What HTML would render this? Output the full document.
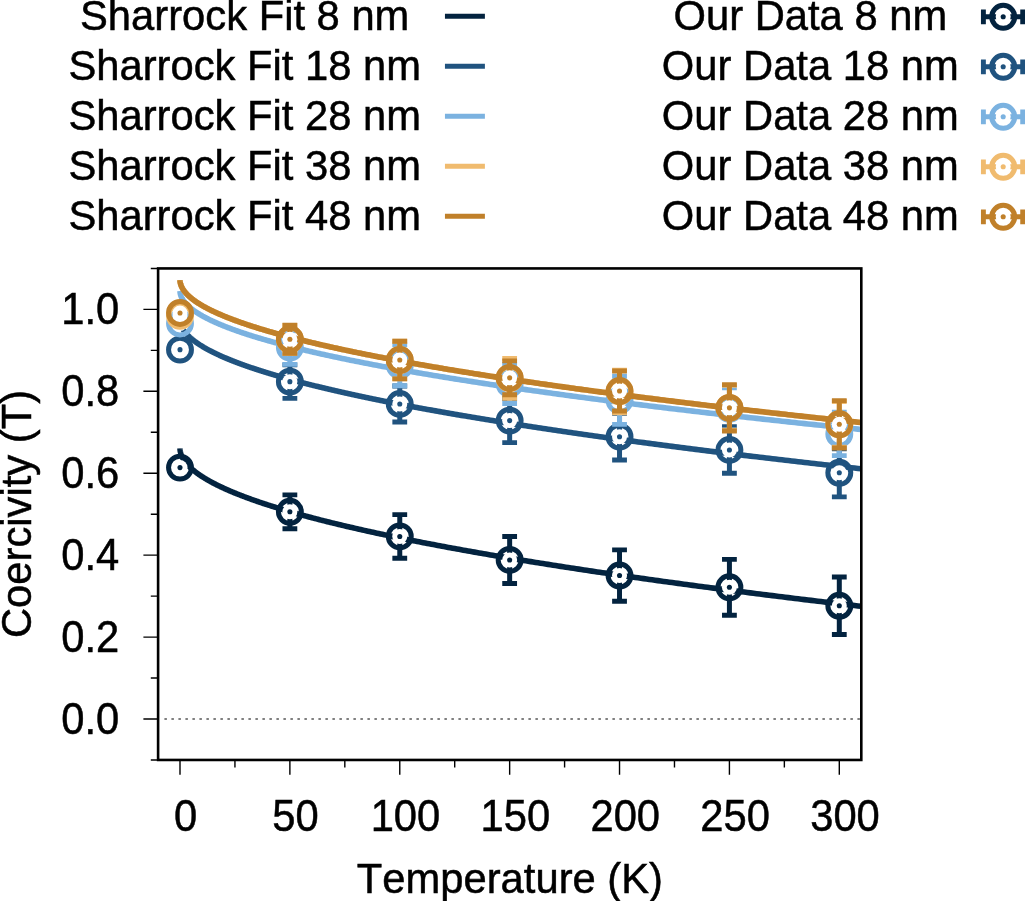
<!DOCTYPE html><html><head><meta charset="utf-8"><title>Coercivity vs Temperature</title>
<style>html,body{margin:0;padding:0;background:#fff;}body{width:1025px;height:901px;overflow:hidden;}svg{display:block;}text{font-family:"Liberation Sans",sans-serif;font-size:41.75px;fill:#000;font-kerning:none;stroke:#000;stroke-width:0.5px;}</style></head><body>
<svg width="1025" height="901" viewBox="0 0 1025 901">
<rect width="1025" height="901" fill="#fff"/>
<line x1="164.40" y1="719.00" x2="861.30" y2="719.00" stroke="#555" stroke-width="1.3" stroke-dasharray="2.5,4.5"/>
<path d="M158.10 759.96h-7.30M158.10 719.00h-14.70M158.10 678.04h-7.30M158.10 637.08h-14.70M158.10 596.12h-7.30M158.10 555.16h-14.70M158.10 514.20h-7.30M158.10 473.24h-14.70M158.10 432.28h-7.30M158.10 391.32h-14.70M158.10 350.36h-7.30M158.10 309.40h-14.70M158.10 268.44h-7.30M180.00 759.96v14.80M234.94 759.96v7.60M289.88 759.96v14.80M344.82 759.96v7.60M399.77 759.96v14.80M454.71 759.96v7.60M509.65 759.96v14.80M564.59 759.96v7.60M619.53 759.96v14.80M674.48 759.96v7.60M729.42 759.96v14.80M784.36 759.96v7.60M839.30 759.96v14.80" stroke="#000" stroke-width="1.4" fill="none"/>
<defs><clipPath id="c"><rect x="158.10" y="268.44" width="705.40" height="491.52"/></clipPath></defs>
<g clip-path="url(#c)">
<path d="M180.00 448.37L180.01 448.58L180.02 448.93L180.04 449.31L180.07 449.70L180.11 450.09L180.16 450.48L180.21 450.87L180.27 451.27L180.35 451.66L180.43 452.06L180.52 452.45L180.62 452.85L180.72 453.24L180.84 453.64L180.96 454.03L181.09 454.43L181.23 454.82L181.38 455.22L181.54 455.61L181.71 456.01L181.88 456.40L182.06 456.80L182.25 457.19L182.45 457.59L182.66 457.98L182.88 458.38L183.11 458.77L183.34 459.17L183.58 459.57L183.83 459.96L184.09 460.36L184.36 460.75L184.64 461.15L184.92 461.54L185.22 461.94L185.52 462.33L185.83 462.73L186.15 463.12L186.48 463.52L186.81 463.92L187.16 464.31L187.51 464.71L187.88 465.10L188.25 465.50L188.62 465.89L189.01 466.29L189.41 466.68L189.81 467.08L190.23 467.48L190.65 467.87L191.08 468.27L191.52 468.66L191.96 469.06L192.42 469.45L192.88 469.85L193.36 470.24L193.84 470.64L194.33 471.04L194.82 471.43L195.33 471.83L195.85 472.22L196.37 472.62L196.90 473.01L197.44 473.41L197.99 473.80L198.55 474.20L199.12 474.60L199.69 474.99L200.27 475.39L200.87 475.78L201.47 476.18L202.08 476.57L202.69 476.97L203.32 477.36L203.95 477.76L204.60 478.16L205.25 478.55L205.91 478.95L206.58 479.34L207.25 479.74L207.94 480.13L208.63 480.53L209.34 480.92L210.05 481.32L210.77 481.72L211.49 482.11L212.23 482.51L212.98 482.90L213.73 483.30L214.49 483.69L215.26 484.09L216.04 484.48L216.83 484.88L217.63 485.28L218.43 485.67L219.24 486.07L220.07 486.46L220.90 486.86L221.73 487.25L222.58 487.65L223.44 488.04L224.30 488.44L225.17 488.84L226.06 489.23L226.95 489.63L227.84 490.02L228.75 490.42L229.67 490.81L230.59 491.21L231.52 491.60L232.46 492.00L233.41 492.40L234.37 492.79L235.34 493.19L236.31 493.58L237.30 493.98L238.29 494.37L239.29 494.77L240.30 495.16L241.32 495.56L242.34 495.96L243.38 496.35L244.42 496.75L245.47 497.14L246.53 497.54L247.60 497.93L248.68 498.33L249.76 498.73L250.86 499.12L251.96 499.52L253.07 499.91L254.19 500.31L255.32 500.70L256.46 501.10L257.60 501.49L258.76 501.89L259.92 502.29L261.09 502.68L262.27 503.08L263.46 503.47L264.65 503.87L265.86 504.26L267.07 504.66L268.30 505.05L269.53 505.45L270.76 505.85L272.01 506.24L273.27 506.64L274.53 507.03L275.81 507.43L277.09 507.82L278.38 508.22L279.68 508.61L280.98 509.01L282.30 509.41L283.62 509.80L284.96 510.20L286.30 510.59L287.65 510.99L289.01 511.38L290.37 511.78L291.75 512.17L293.13 512.57L294.52 512.97L295.93 513.36L297.33 513.76L298.75 514.15L300.18 514.55L301.61 514.94L303.06 515.34L304.51 515.73L305.97 516.13L307.44 516.53L308.92 516.92L310.40 517.32L311.90 517.71L313.40 518.11L314.91 518.50L316.43 518.90L317.96 519.30L319.50 519.69L321.04 520.09L322.60 520.48L324.16 520.88L325.73 521.27L327.31 521.67L328.90 522.06L330.50 522.46L332.10 522.86L333.71 523.25L335.34 523.65L336.97 524.04L338.61 524.44L340.25 524.83L341.91 525.23L343.58 525.62L345.25 526.02L346.93 526.42L348.62 526.81L350.32 527.21L352.03 527.60L353.74 528.00L355.47 528.39L357.20 528.79L358.94 529.18L360.69 529.58L362.45 529.98L364.22 530.37L365.99 530.77L367.78 531.16L369.57 531.56L371.37 531.95L373.18 532.35L375.00 532.74L376.83 533.14L378.66 533.54L380.51 533.93L382.36 534.33L384.22 534.72L386.09 535.12L387.97 535.51L389.85 535.91L391.75 536.30L393.65 536.70L395.56 537.10L397.48 537.49L399.41 537.89L401.35 538.28L403.29 538.68L405.25 539.07L407.21 539.47L409.18 539.87L411.16 540.26L413.15 540.66L415.15 541.05L417.15 541.45L419.17 541.84L421.19 542.24L423.22 542.63L425.26 543.03L427.31 543.43L429.37 543.82L431.43 544.22L433.50 544.61L435.59 545.01L437.68 545.40L439.78 545.80L441.88 546.19L444.00 546.59L446.13 546.99L448.26 547.38L450.40 547.78L452.55 548.17L454.71 548.57L456.88 548.96L459.05 549.36L461.24 549.75L463.43 550.15L465.63 550.55L467.84 550.94L470.06 551.34L472.29 551.73L474.52 552.13L476.77 552.52L479.02 552.92L481.28 553.31L483.55 553.71L485.83 554.11L488.11 554.50L490.41 554.90L492.71 555.29L495.02 555.69L497.34 556.08L499.67 556.48L502.01 556.88L504.36 557.27L506.71 557.67L509.07 558.06L511.45 558.46L513.83 558.85L516.22 559.25L518.61 559.64L521.02 560.04L523.43 560.44L525.86 560.83L528.29 561.23L530.73 561.62L533.17 562.02L535.63 562.41L538.10 562.81L540.57 563.20L543.05 563.60L545.54 564.00L548.04 564.39L550.55 564.79L553.07 565.18L555.59 565.58L558.13 565.97L560.67 566.37L563.22 566.76L565.78 567.16L568.35 567.56L570.92 567.95L573.51 568.35L576.10 568.74L578.70 569.14L581.31 569.53L583.93 569.93L586.56 570.32L589.19 570.72L591.84 571.12L594.49 571.51L597.15 571.91L599.82 572.30L602.50 572.70L605.19 573.09L607.88 573.49L610.58 573.88L613.30 574.28L616.02 574.68L618.75 575.07L621.49 575.47L624.23 575.86L626.99 576.26L629.75 576.65L632.52 577.05L635.30 577.45L638.09 577.84L640.89 578.24L643.69 578.63L646.51 579.03L649.33 579.42L652.16 579.82L655.00 580.21L657.85 580.61L660.71 581.01L663.58 581.40L666.45 581.80L669.33 582.19L672.22 582.59L675.12 582.98L678.03 583.38L680.95 583.77L683.87 584.17L686.81 584.57L689.75 584.96L692.70 585.36L695.66 585.75L698.63 586.15L701.60 586.54L704.59 586.94L707.58 587.33L710.58 587.73L713.59 588.13L716.61 588.52L719.64 588.92L722.68 589.31L725.72 589.71L728.77 590.10L731.83 590.50L734.90 590.89L737.98 591.29L741.07 591.69L744.17 592.08L747.27 592.48L750.38 592.87L753.50 593.27L756.63 593.66L759.77 594.06L762.92 594.46L766.07 594.85L769.24 595.25L772.41 595.64L775.59 596.04L778.78 596.43L781.98 596.83L785.18 597.22L788.40 597.62L791.62 598.02L794.85 598.41L798.09 598.81L801.34 599.20L804.60 599.60L807.86 599.99L811.14 600.39L814.42 600.78L817.71 601.18L821.01 601.58L824.32 601.97L827.64 602.37L830.96 602.76L834.30 603.16L837.64 603.55L840.99 603.95L844.35 604.34L847.72 604.74L851.10 605.14L854.48 605.53L857.87 605.93L861.28 606.32" fill="none" stroke="#03233f" stroke-width="5.6" stroke-linejoin="round"/>
<circle cx="180.00" cy="467.62" r="7.5" fill="#fff"/><circle cx="180.00" cy="467.62" r="11.45" fill="none" stroke="#03233f" stroke-width="5"/><circle cx="180.00" cy="467.62" r="2.55" fill="#03233f"/>
<path d="M289.88 494.90V528.73" stroke="#03233f" stroke-width="5.0" fill="none"/><path d="M282.48 494.90h14.80M282.48 528.73h14.80" stroke="#03233f" stroke-width="4.9" fill="none"/><circle cx="289.88" cy="511.82" r="7.5" fill="#fff"/><circle cx="289.88" cy="511.82" r="11.45" fill="none" stroke="#03233f" stroke-width="5"/><circle cx="289.88" cy="511.82" r="2.55" fill="#03233f"/>
<path d="M399.77 514.59V558.30" stroke="#03233f" stroke-width="5.0" fill="none"/><path d="M392.37 514.59h14.80M392.37 558.30h14.80" stroke="#03233f" stroke-width="4.9" fill="none"/><circle cx="399.77" cy="536.45" r="7.5" fill="#fff"/><circle cx="399.77" cy="536.45" r="11.45" fill="none" stroke="#03233f" stroke-width="5"/><circle cx="399.77" cy="536.45" r="2.55" fill="#03233f"/>
<path d="M509.65 536.45V583.43" stroke="#03233f" stroke-width="5.0" fill="none"/><path d="M502.25 536.45h14.80M502.25 583.43h14.80" stroke="#03233f" stroke-width="4.9" fill="none"/><circle cx="509.65" cy="559.94" r="7.5" fill="#fff"/><circle cx="509.65" cy="559.94" r="11.45" fill="none" stroke="#03233f" stroke-width="5"/><circle cx="509.65" cy="559.94" r="2.55" fill="#03233f"/>
<path d="M619.53 549.85V601.24" stroke="#03233f" stroke-width="5.0" fill="none"/><path d="M612.13 549.85h14.80M612.13 601.24h14.80" stroke="#03233f" stroke-width="4.9" fill="none"/><circle cx="619.53" cy="575.54" r="7.5" fill="#fff"/><circle cx="619.53" cy="575.54" r="11.45" fill="none" stroke="#03233f" stroke-width="5"/><circle cx="619.53" cy="575.54" r="2.55" fill="#03233f"/>
<path d="M729.42 559.37V615.25" stroke="#03233f" stroke-width="5.0" fill="none"/><path d="M722.02 559.37h14.80M722.02 615.25h14.80" stroke="#03233f" stroke-width="4.9" fill="none"/><circle cx="729.42" cy="587.31" r="7.5" fill="#fff"/><circle cx="729.42" cy="587.31" r="11.45" fill="none" stroke="#03233f" stroke-width="5"/><circle cx="729.42" cy="587.31" r="2.55" fill="#03233f"/>
<path d="M839.30 577.05V634.49" stroke="#03233f" stroke-width="5.0" fill="none"/><path d="M831.90 577.05h14.80M831.90 634.49h14.80" stroke="#03233f" stroke-width="4.9" fill="none"/><circle cx="839.30" cy="605.77" r="7.5" fill="#fff"/><circle cx="839.30" cy="605.77" r="11.45" fill="none" stroke="#03233f" stroke-width="5"/><circle cx="839.30" cy="605.77" r="2.55" fill="#03233f"/>
<path d="M180.00 319.60L180.01 319.79L180.02 320.12L180.04 320.48L180.07 320.85L180.11 321.22L180.16 321.59L180.21 321.96L180.27 322.33L180.35 322.70L180.43 323.08L180.52 323.45L180.62 323.82L180.72 324.20L180.84 324.57L180.96 324.94L181.09 325.32L181.23 325.69L181.38 326.06L181.54 326.44L181.71 326.81L181.88 327.18L182.06 327.56L182.25 327.93L182.45 328.30L182.66 328.68L182.88 329.05L183.11 329.42L183.34 329.80L183.58 330.17L183.83 330.54L184.09 330.92L184.36 331.29L184.64 331.67L184.92 332.04L185.22 332.41L185.52 332.79L185.83 333.16L186.15 333.53L186.48 333.91L186.81 334.28L187.16 334.65L187.51 335.03L187.88 335.40L188.25 335.77L188.62 336.15L189.01 336.52L189.41 336.90L189.81 337.27L190.23 337.64L190.65 338.02L191.08 338.39L191.52 338.76L191.96 339.14L192.42 339.51L192.88 339.88L193.36 340.26L193.84 340.63L194.33 341.01L194.82 341.38L195.33 341.75L195.85 342.13L196.37 342.50L196.90 342.87L197.44 343.25L197.99 343.62L198.55 343.99L199.12 344.37L199.69 344.74L200.27 345.12L200.87 345.49L201.47 345.86L202.08 346.24L202.69 346.61L203.32 346.98L203.95 347.36L204.60 347.73L205.25 348.11L205.91 348.48L206.58 348.85L207.25 349.23L207.94 349.60L208.63 349.97L209.34 350.35L210.05 350.72L210.77 351.09L211.49 351.47L212.23 351.84L212.98 352.22L213.73 352.59L214.49 352.96L215.26 353.34L216.04 353.71L216.83 354.08L217.63 354.46L218.43 354.83L219.24 355.20L220.07 355.58L220.90 355.95L221.73 356.33L222.58 356.70L223.44 357.07L224.30 357.45L225.17 357.82L226.06 358.19L226.95 358.57L227.84 358.94L228.75 359.32L229.67 359.69L230.59 360.06L231.52 360.44L232.46 360.81L233.41 361.18L234.37 361.56L235.34 361.93L236.31 362.30L237.30 362.68L238.29 363.05L239.29 363.43L240.30 363.80L241.32 364.17L242.34 364.55L243.38 364.92L244.42 365.29L245.47 365.67L246.53 366.04L247.60 366.41L248.68 366.79L249.76 367.16L250.86 367.54L251.96 367.91L253.07 368.28L254.19 368.66L255.32 369.03L256.46 369.40L257.60 369.78L258.76 370.15L259.92 370.53L261.09 370.90L262.27 371.27L263.46 371.65L264.65 372.02L265.86 372.39L267.07 372.77L268.30 373.14L269.53 373.51L270.76 373.89L272.01 374.26L273.27 374.64L274.53 375.01L275.81 375.38L277.09 375.76L278.38 376.13L279.68 376.50L280.98 376.88L282.30 377.25L283.62 377.63L284.96 378.00L286.30 378.37L287.65 378.75L289.01 379.12L290.37 379.49L291.75 379.87L293.13 380.24L294.52 380.61L295.93 380.99L297.33 381.36L298.75 381.74L300.18 382.11L301.61 382.48L303.06 382.86L304.51 383.23L305.97 383.60L307.44 383.98L308.92 384.35L310.40 384.72L311.90 385.10L313.40 385.47L314.91 385.85L316.43 386.22L317.96 386.59L319.50 386.97L321.04 387.34L322.60 387.71L324.16 388.09L325.73 388.46L327.31 388.84L328.90 389.21L330.50 389.58L332.10 389.96L333.71 390.33L335.34 390.70L336.97 391.08L338.61 391.45L340.25 391.82L341.91 392.20L343.58 392.57L345.25 392.95L346.93 393.32L348.62 393.69L350.32 394.07L352.03 394.44L353.74 394.81L355.47 395.19L357.20 395.56L358.94 395.94L360.69 396.31L362.45 396.68L364.22 397.06L365.99 397.43L367.78 397.80L369.57 398.18L371.37 398.55L373.18 398.92L375.00 399.30L376.83 399.67L378.66 400.05L380.51 400.42L382.36 400.79L384.22 401.17L386.09 401.54L387.97 401.91L389.85 402.29L391.75 402.66L393.65 403.04L395.56 403.41L397.48 403.78L399.41 404.16L401.35 404.53L403.29 404.90L405.25 405.28L407.21 405.65L409.18 406.02L411.16 406.40L413.15 406.77L415.15 407.15L417.15 407.52L419.17 407.89L421.19 408.27L423.22 408.64L425.26 409.01L427.31 409.39L429.37 409.76L431.43 410.13L433.50 410.51L435.59 410.88L437.68 411.26L439.78 411.63L441.88 412.00L444.00 412.38L446.13 412.75L448.26 413.12L450.40 413.50L452.55 413.87L454.71 414.25L456.88 414.62L459.05 414.99L461.24 415.37L463.43 415.74L465.63 416.11L467.84 416.49L470.06 416.86L472.29 417.23L474.52 417.61L476.77 417.98L479.02 418.36L481.28 418.73L483.55 419.10L485.83 419.48L488.11 419.85L490.41 420.22L492.71 420.60L495.02 420.97L497.34 421.35L499.67 421.72L502.01 422.09L504.36 422.47L506.71 422.84L509.07 423.21L511.45 423.59L513.83 423.96L516.22 424.33L518.61 424.71L521.02 425.08L523.43 425.46L525.86 425.83L528.29 426.20L530.73 426.58L533.17 426.95L535.63 427.32L538.10 427.70L540.57 428.07L543.05 428.45L545.54 428.82L548.04 429.19L550.55 429.57L553.07 429.94L555.59 430.31L558.13 430.69L560.67 431.06L563.22 431.43L565.78 431.81L568.35 432.18L570.92 432.56L573.51 432.93L576.10 433.30L578.70 433.68L581.31 434.05L583.93 434.42L586.56 434.80L589.19 435.17L591.84 435.54L594.49 435.92L597.15 436.29L599.82 436.67L602.50 437.04L605.19 437.41L607.88 437.79L610.58 438.16L613.30 438.53L616.02 438.91L618.75 439.28L621.49 439.66L624.23 440.03L626.99 440.40L629.75 440.78L632.52 441.15L635.30 441.52L638.09 441.90L640.89 442.27L643.69 442.64L646.51 443.02L649.33 443.39L652.16 443.77L655.00 444.14L657.85 444.51L660.71 444.89L663.58 445.26L666.45 445.63L669.33 446.01L672.22 446.38L675.12 446.76L678.03 447.13L680.95 447.50L683.87 447.88L686.81 448.25L689.75 448.62L692.70 449.00L695.66 449.37L698.63 449.74L701.60 450.12L704.59 450.49L707.58 450.87L710.58 451.24L713.59 451.61L716.61 451.99L719.64 452.36L722.68 452.73L725.72 453.11L728.77 453.48L731.83 453.86L734.90 454.23L737.98 454.60L741.07 454.98L744.17 455.35L747.27 455.72L750.38 456.10L753.50 456.47L756.63 456.84L759.77 457.22L762.92 457.59L766.07 457.97L769.24 458.34L772.41 458.71L775.59 459.09L778.78 459.46L781.98 459.83L785.18 460.21L788.40 460.58L791.62 460.95L794.85 461.33L798.09 461.70L801.34 462.08L804.60 462.45L807.86 462.82L811.14 463.20L814.42 463.57L817.71 463.94L821.01 464.32L824.32 464.69L827.64 465.07L830.96 465.44L834.30 465.81L837.64 466.19L840.99 466.56L844.35 466.93L847.72 467.31L851.10 467.68L854.48 468.05L857.87 468.43L861.28 468.80" fill="none" stroke="#20537f" stroke-width="5.6" stroke-linejoin="round"/>
<circle cx="180.00" cy="349.64" r="7.5" fill="#fff"/><circle cx="180.00" cy="349.64" r="11.45" fill="none" stroke="#20537f" stroke-width="5"/><circle cx="180.00" cy="349.64" r="2.55" fill="#20537f"/>
<path d="M289.88 364.88V398.38" stroke="#20537f" stroke-width="5.0" fill="none"/><path d="M282.48 364.88h14.80M282.48 398.38h14.80" stroke="#20537f" stroke-width="4.9" fill="none"/><circle cx="289.88" cy="381.63" r="7.5" fill="#fff"/><circle cx="289.88" cy="381.63" r="11.45" fill="none" stroke="#20537f" stroke-width="5"/><circle cx="289.88" cy="381.63" r="2.55" fill="#20537f"/>
<path d="M399.77 386.04V421.99" stroke="#20537f" stroke-width="5.0" fill="none"/><path d="M392.37 386.04h14.80M392.37 421.99h14.80" stroke="#20537f" stroke-width="4.9" fill="none"/><circle cx="399.77" cy="404.01" r="7.5" fill="#fff"/><circle cx="399.77" cy="404.01" r="11.45" fill="none" stroke="#20537f" stroke-width="5"/><circle cx="399.77" cy="404.01" r="2.55" fill="#20537f"/>
<path d="M509.65 398.62V442.58" stroke="#20537f" stroke-width="5.0" fill="none"/><path d="M502.25 398.62h14.80M502.25 442.58h14.80" stroke="#20537f" stroke-width="4.9" fill="none"/><circle cx="509.65" cy="420.60" r="7.5" fill="#fff"/><circle cx="509.65" cy="420.60" r="11.45" fill="none" stroke="#20537f" stroke-width="5"/><circle cx="509.65" cy="420.60" r="2.55" fill="#20537f"/>
<path d="M619.53 413.41V459.98" stroke="#20537f" stroke-width="5.0" fill="none"/><path d="M612.13 413.41h14.80M612.13 459.98h14.80" stroke="#20537f" stroke-width="4.9" fill="none"/><circle cx="619.53" cy="436.69" r="7.5" fill="#fff"/><circle cx="619.53" cy="436.69" r="11.45" fill="none" stroke="#20537f" stroke-width="5"/><circle cx="619.53" cy="436.69" r="2.55" fill="#20537f"/>
<path d="M729.42 426.73V473.29" stroke="#20537f" stroke-width="5.0" fill="none"/><path d="M722.02 426.73h14.80M722.02 473.29h14.80" stroke="#20537f" stroke-width="4.9" fill="none"/><circle cx="729.42" cy="450.01" r="7.5" fill="#fff"/><circle cx="729.42" cy="450.01" r="11.45" fill="none" stroke="#20537f" stroke-width="5"/><circle cx="729.42" cy="450.01" r="2.55" fill="#20537f"/>
<path d="M839.30 448.70V496.91" stroke="#20537f" stroke-width="5.0" fill="none"/><path d="M831.90 448.70h14.80M831.90 496.91h14.80" stroke="#20537f" stroke-width="4.9" fill="none"/><circle cx="839.30" cy="472.80" r="7.5" fill="#fff"/><circle cx="839.30" cy="472.80" r="11.45" fill="none" stroke="#20537f" stroke-width="5"/><circle cx="839.30" cy="472.80" r="2.55" fill="#20537f"/>
<path d="M180.00 291.03L180.01 291.20L180.02 291.51L180.04 291.85L180.07 292.19L180.11 292.53L180.16 292.87L180.21 293.22L180.27 293.56L180.35 293.91L180.43 294.25L180.52 294.60L180.62 294.95L180.72 295.29L180.84 295.64L180.96 295.98L181.09 296.33L181.23 296.68L181.38 297.02L181.54 297.37L181.71 297.72L181.88 298.06L182.06 298.41L182.25 298.76L182.45 299.10L182.66 299.45L182.88 299.80L183.11 300.14L183.34 300.49L183.58 300.84L183.83 301.18L184.09 301.53L184.36 301.88L184.64 302.22L184.92 302.57L185.22 302.92L185.52 303.26L185.83 303.61L186.15 303.96L186.48 304.30L186.81 304.65L187.16 305.00L187.51 305.34L187.88 305.69L188.25 306.04L188.62 306.39L189.01 306.73L189.41 307.08L189.81 307.43L190.23 307.77L190.65 308.12L191.08 308.47L191.52 308.81L191.96 309.16L192.42 309.51L192.88 309.85L193.36 310.20L193.84 310.55L194.33 310.89L194.82 311.24L195.33 311.59L195.85 311.93L196.37 312.28L196.90 312.63L197.44 312.97L197.99 313.32L198.55 313.67L199.12 314.01L199.69 314.36L200.27 314.71L200.87 315.05L201.47 315.40L202.08 315.75L202.69 316.10L203.32 316.44L203.95 316.79L204.60 317.14L205.25 317.48L205.91 317.83L206.58 318.18L207.25 318.52L207.94 318.87L208.63 319.22L209.34 319.56L210.05 319.91L210.77 320.26L211.49 320.60L212.23 320.95L212.98 321.30L213.73 321.64L214.49 321.99L215.26 322.34L216.04 322.68L216.83 323.03L217.63 323.38L218.43 323.72L219.24 324.07L220.07 324.42L220.90 324.76L221.73 325.11L222.58 325.46L223.44 325.81L224.30 326.15L225.17 326.50L226.06 326.85L226.95 327.19L227.84 327.54L228.75 327.89L229.67 328.23L230.59 328.58L231.52 328.93L232.46 329.27L233.41 329.62L234.37 329.97L235.34 330.31L236.31 330.66L237.30 331.01L238.29 331.35L239.29 331.70L240.30 332.05L241.32 332.39L242.34 332.74L243.38 333.09L244.42 333.44L245.47 333.78L246.53 334.13L247.60 334.48L248.68 334.82L249.76 335.17L250.86 335.52L251.96 335.86L253.07 336.21L254.19 336.56L255.32 336.90L256.46 337.25L257.60 337.60L258.76 337.94L259.92 338.29L261.09 338.64L262.27 338.98L263.46 339.33L264.65 339.68L265.86 340.02L267.07 340.37L268.30 340.72L269.53 341.06L270.76 341.41L272.01 341.76L273.27 342.11L274.53 342.45L275.81 342.80L277.09 343.15L278.38 343.49L279.68 343.84L280.98 344.19L282.30 344.53L283.62 344.88L284.96 345.23L286.30 345.57L287.65 345.92L289.01 346.27L290.37 346.61L291.75 346.96L293.13 347.31L294.52 347.65L295.93 348.00L297.33 348.35L298.75 348.69L300.18 349.04L301.61 349.39L303.06 349.73L304.51 350.08L305.97 350.43L307.44 350.78L308.92 351.12L310.40 351.47L311.90 351.82L313.40 352.16L314.91 352.51L316.43 352.86L317.96 353.20L319.50 353.55L321.04 353.90L322.60 354.24L324.16 354.59L325.73 354.94L327.31 355.28L328.90 355.63L330.50 355.98L332.10 356.32L333.71 356.67L335.34 357.02L336.97 357.36L338.61 357.71L340.25 358.06L341.91 358.41L343.58 358.75L345.25 359.10L346.93 359.45L348.62 359.79L350.32 360.14L352.03 360.49L353.74 360.83L355.47 361.18L357.20 361.53L358.94 361.87L360.69 362.22L362.45 362.57L364.22 362.91L365.99 363.26L367.78 363.61L369.57 363.95L371.37 364.30L373.18 364.65L375.00 364.99L376.83 365.34L378.66 365.69L380.51 366.03L382.36 366.38L384.22 366.73L386.09 367.08L387.97 367.42L389.85 367.77L391.75 368.12L393.65 368.46L395.56 368.81L397.48 369.16L399.41 369.50L401.35 369.85L403.29 370.20L405.25 370.54L407.21 370.89L409.18 371.24L411.16 371.58L413.15 371.93L415.15 372.28L417.15 372.62L419.17 372.97L421.19 373.32L423.22 373.66L425.26 374.01L427.31 374.36L429.37 374.71L431.43 375.05L433.50 375.40L435.59 375.75L437.68 376.09L439.78 376.44L441.88 376.79L444.00 377.13L446.13 377.48L448.26 377.83L450.40 378.17L452.55 378.52L454.71 378.87L456.88 379.21L459.05 379.56L461.24 379.91L463.43 380.25L465.63 380.60L467.84 380.95L470.06 381.29L472.29 381.64L474.52 381.99L476.77 382.33L479.02 382.68L481.28 383.03L483.55 383.38L485.83 383.72L488.11 384.07L490.41 384.42L492.71 384.76L495.02 385.11L497.34 385.46L499.67 385.80L502.01 386.15L504.36 386.50L506.71 386.84L509.07 387.19L511.45 387.54L513.83 387.88L516.22 388.23L518.61 388.58L521.02 388.92L523.43 389.27L525.86 389.62L528.29 389.96L530.73 390.31L533.17 390.66L535.63 391.01L538.10 391.35L540.57 391.70L543.05 392.05L545.54 392.39L548.04 392.74L550.55 393.09L553.07 393.43L555.59 393.78L558.13 394.13L560.67 394.47L563.22 394.82L565.78 395.17L568.35 395.51L570.92 395.86L573.51 396.21L576.10 396.55L578.70 396.90L581.31 397.25L583.93 397.59L586.56 397.94L589.19 398.29L591.84 398.63L594.49 398.98L597.15 399.33L599.82 399.68L602.50 400.02L605.19 400.37L607.88 400.72L610.58 401.06L613.30 401.41L616.02 401.76L618.75 402.10L621.49 402.45L624.23 402.80L626.99 403.14L629.75 403.49L632.52 403.84L635.30 404.18L638.09 404.53L640.89 404.88L643.69 405.22L646.51 405.57L649.33 405.92L652.16 406.26L655.00 406.61L657.85 406.96L660.71 407.31L663.58 407.65L666.45 408.00L669.33 408.35L672.22 408.69L675.12 409.04L678.03 409.39L680.95 409.73L683.87 410.08L686.81 410.43L689.75 410.77L692.70 411.12L695.66 411.47L698.63 411.81L701.60 412.16L704.59 412.51L707.58 412.85L710.58 413.20L713.59 413.55L716.61 413.89L719.64 414.24L722.68 414.59L725.72 414.94L728.77 415.28L731.83 415.63L734.90 415.98L737.98 416.32L741.07 416.67L744.17 417.02L747.27 417.36L750.38 417.71L753.50 418.06L756.63 418.40L759.77 418.75L762.92 419.10L766.07 419.44L769.24 419.79L772.41 420.14L775.59 420.48L778.78 420.83L781.98 421.18L785.18 421.52L788.40 421.87L791.62 422.22L794.85 422.56L798.09 422.91L801.34 423.26L804.60 423.61L807.86 423.95L811.14 424.30L814.42 424.65L817.71 424.99L821.01 425.34L824.32 425.69L827.64 426.03L830.96 426.38L834.30 426.73L837.64 427.07L840.99 427.42L844.35 427.77L847.72 428.11L851.10 428.46L854.48 428.81L857.87 429.15L861.28 429.50" fill="none" stroke="#7bb2e0" stroke-width="5.6" stroke-linejoin="round"/>
<circle cx="180.00" cy="323.50" r="7.5" fill="#fff"/><circle cx="180.00" cy="323.50" r="11.45" fill="none" stroke="#7bb2e0" stroke-width="5"/><circle cx="180.00" cy="323.50" r="2.55" fill="#7bb2e0"/>
<path d="M289.88 330.85V364.35" stroke="#7bb2e0" stroke-width="5.0" fill="none"/><path d="M282.48 330.85h14.80M282.48 364.35h14.80" stroke="#7bb2e0" stroke-width="4.9" fill="none"/><circle cx="289.88" cy="347.60" r="7.5" fill="#fff"/><circle cx="289.88" cy="347.60" r="11.45" fill="none" stroke="#7bb2e0" stroke-width="5"/><circle cx="289.88" cy="347.60" r="2.55" fill="#7bb2e0"/>
<path d="M399.77 344.90V385.75" stroke="#7bb2e0" stroke-width="5.0" fill="none"/><path d="M392.37 344.90h14.80M392.37 385.75h14.80" stroke="#7bb2e0" stroke-width="4.9" fill="none"/><circle cx="399.77" cy="365.33" r="7.5" fill="#fff"/><circle cx="399.77" cy="365.33" r="11.45" fill="none" stroke="#7bb2e0" stroke-width="5"/><circle cx="399.77" cy="365.33" r="2.55" fill="#7bb2e0"/>
<path d="M509.65 364.35V403.56" stroke="#7bb2e0" stroke-width="5.0" fill="none"/><path d="M502.25 364.35h14.80M502.25 403.56h14.80" stroke="#7bb2e0" stroke-width="4.9" fill="none"/><circle cx="509.65" cy="383.96" r="7.5" fill="#fff"/><circle cx="509.65" cy="383.96" r="11.45" fill="none" stroke="#7bb2e0" stroke-width="5"/><circle cx="509.65" cy="383.96" r="2.55" fill="#7bb2e0"/>
<path d="M619.53 376.19V424.40" stroke="#7bb2e0" stroke-width="5.0" fill="none"/><path d="M612.13 376.19h14.80M612.13 424.40h14.80" stroke="#7bb2e0" stroke-width="4.9" fill="none"/><circle cx="619.53" cy="400.30" r="7.5" fill="#fff"/><circle cx="619.53" cy="400.30" r="11.45" fill="none" stroke="#7bb2e0" stroke-width="5"/><circle cx="619.53" cy="400.30" r="2.55" fill="#7bb2e0"/>
<path d="M729.42 387.75V429.99" stroke="#7bb2e0" stroke-width="5.0" fill="none"/><path d="M722.02 387.75h14.80M722.02 429.99h14.80" stroke="#7bb2e0" stroke-width="4.9" fill="none"/><circle cx="729.42" cy="408.87" r="7.5" fill="#fff"/><circle cx="729.42" cy="408.87" r="11.45" fill="none" stroke="#7bb2e0" stroke-width="5"/><circle cx="729.42" cy="408.87" r="2.55" fill="#7bb2e0"/>
<path d="M839.30 412.31V455.61" stroke="#7bb2e0" stroke-width="5.0" fill="none"/><path d="M831.90 412.31h14.80M831.90 455.61h14.80" stroke="#7bb2e0" stroke-width="4.9" fill="none"/><circle cx="839.30" cy="433.96" r="7.5" fill="#fff"/><circle cx="839.30" cy="433.96" r="11.45" fill="none" stroke="#7bb2e0" stroke-width="5"/><circle cx="839.30" cy="433.96" r="2.55" fill="#7bb2e0"/>
<path d="M180.00 280.09L180.01 280.27L180.02 280.59L180.04 280.93L180.07 281.28L180.11 281.63L180.16 281.98L180.21 282.34L180.27 282.69L180.35 283.05L180.43 283.41L180.52 283.76L180.62 284.12L180.72 284.47L180.84 284.83L180.96 285.19L181.09 285.54L181.23 285.90L181.38 286.26L181.54 286.61L181.71 286.97L181.88 287.33L182.06 287.68L182.25 288.04L182.45 288.40L182.66 288.75L182.88 289.11L183.11 289.47L183.34 289.82L183.58 290.18L183.83 290.54L184.09 290.89L184.36 291.25L184.64 291.61L184.92 291.96L185.22 292.32L185.52 292.68L185.83 293.03L186.15 293.39L186.48 293.75L186.81 294.10L187.16 294.46L187.51 294.82L187.88 295.17L188.25 295.53L188.62 295.89L189.01 296.24L189.41 296.60L189.81 296.96L190.23 297.31L190.65 297.67L191.08 298.03L191.52 298.38L191.96 298.74L192.42 299.10L192.88 299.45L193.36 299.81L193.84 300.17L194.33 300.52L194.82 300.88L195.33 301.24L195.85 301.60L196.37 301.95L196.90 302.31L197.44 302.67L197.99 303.02L198.55 303.38L199.12 303.74L199.69 304.09L200.27 304.45L200.87 304.81L201.47 305.16L202.08 305.52L202.69 305.88L203.32 306.23L203.95 306.59L204.60 306.95L205.25 307.30L205.91 307.66L206.58 308.02L207.25 308.37L207.94 308.73L208.63 309.09L209.34 309.44L210.05 309.80L210.77 310.16L211.49 310.51L212.23 310.87L212.98 311.23L213.73 311.59L214.49 311.94L215.26 312.30L216.04 312.66L216.83 313.01L217.63 313.37L218.43 313.73L219.24 314.08L220.07 314.44L220.90 314.80L221.73 315.15L222.58 315.51L223.44 315.87L224.30 316.22L225.17 316.58L226.06 316.94L226.95 317.29L227.84 317.65L228.75 318.01L229.67 318.36L230.59 318.72L231.52 319.08L232.46 319.43L233.41 319.79L234.37 320.15L235.34 320.50L236.31 320.86L237.30 321.22L238.29 321.58L239.29 321.93L240.30 322.29L241.32 322.65L242.34 323.00L243.38 323.36L244.42 323.72L245.47 324.07L246.53 324.43L247.60 324.79L248.68 325.14L249.76 325.50L250.86 325.86L251.96 326.21L253.07 326.57L254.19 326.93L255.32 327.28L256.46 327.64L257.60 328.00L258.76 328.35L259.92 328.71L261.09 329.07L262.27 329.42L263.46 329.78L264.65 330.14L265.86 330.49L267.07 330.85L268.30 331.21L269.53 331.57L270.76 331.92L272.01 332.28L273.27 332.64L274.53 332.99L275.81 333.35L277.09 333.71L278.38 334.06L279.68 334.42L280.98 334.78L282.30 335.13L283.62 335.49L284.96 335.85L286.30 336.20L287.65 336.56L289.01 336.92L290.37 337.27L291.75 337.63L293.13 337.99L294.52 338.34L295.93 338.70L297.33 339.06L298.75 339.41L300.18 339.77L301.61 340.13L303.06 340.49L304.51 340.84L305.97 341.20L307.44 341.56L308.92 341.91L310.40 342.27L311.90 342.63L313.40 342.98L314.91 343.34L316.43 343.70L317.96 344.05L319.50 344.41L321.04 344.77L322.60 345.12L324.16 345.48L325.73 345.84L327.31 346.19L328.90 346.55L330.50 346.91L332.10 347.26L333.71 347.62L335.34 347.98L336.97 348.33L338.61 348.69L340.25 349.05L341.91 349.41L343.58 349.76L345.25 350.12L346.93 350.48L348.62 350.83L350.32 351.19L352.03 351.55L353.74 351.90L355.47 352.26L357.20 352.62L358.94 352.97L360.69 353.33L362.45 353.69L364.22 354.04L365.99 354.40L367.78 354.76L369.57 355.11L371.37 355.47L373.18 355.83L375.00 356.18L376.83 356.54L378.66 356.90L380.51 357.25L382.36 357.61L384.22 357.97L386.09 358.33L387.97 358.68L389.85 359.04L391.75 359.40L393.65 359.75L395.56 360.11L397.48 360.47L399.41 360.82L401.35 361.18L403.29 361.54L405.25 361.89L407.21 362.25L409.18 362.61L411.16 362.96L413.15 363.32L415.15 363.68L417.15 364.03L419.17 364.39L421.19 364.75L423.22 365.10L425.26 365.46L427.31 365.82L429.37 366.17L431.43 366.53L433.50 366.89L435.59 367.25L437.68 367.60L439.78 367.96L441.88 368.32L444.00 368.67L446.13 369.03L448.26 369.39L450.40 369.74L452.55 370.10L454.71 370.46L456.88 370.81L459.05 371.17L461.24 371.53L463.43 371.88L465.63 372.24L467.84 372.60L470.06 372.95L472.29 373.31L474.52 373.67L476.77 374.02L479.02 374.38L481.28 374.74L483.55 375.09L485.83 375.45L488.11 375.81L490.41 376.16L492.71 376.52L495.02 376.88L497.34 377.24L499.67 377.59L502.01 377.95L504.36 378.31L506.71 378.66L509.07 379.02L511.45 379.38L513.83 379.73L516.22 380.09L518.61 380.45L521.02 380.80L523.43 381.16L525.86 381.52L528.29 381.87L530.73 382.23L533.17 382.59L535.63 382.94L538.10 383.30L540.57 383.66L543.05 384.01L545.54 384.37L548.04 384.73L550.55 385.08L553.07 385.44L555.59 385.80L558.13 386.16L560.67 386.51L563.22 386.87L565.78 387.23L568.35 387.58L570.92 387.94L573.51 388.30L576.10 388.65L578.70 389.01L581.31 389.37L583.93 389.72L586.56 390.08L589.19 390.44L591.84 390.79L594.49 391.15L597.15 391.51L599.82 391.86L602.50 392.22L605.19 392.58L607.88 392.93L610.58 393.29L613.30 393.65L616.02 394.00L618.75 394.36L621.49 394.72L624.23 395.08L626.99 395.43L629.75 395.79L632.52 396.15L635.30 396.50L638.09 396.86L640.89 397.22L643.69 397.57L646.51 397.93L649.33 398.29L652.16 398.64L655.00 399.00L657.85 399.36L660.71 399.71L663.58 400.07L666.45 400.43L669.33 400.78L672.22 401.14L675.12 401.50L678.03 401.85L680.95 402.21L683.87 402.57L686.81 402.92L689.75 403.28L692.70 403.64L695.66 404.00L698.63 404.35L701.60 404.71L704.59 405.07L707.58 405.42L710.58 405.78L713.59 406.14L716.61 406.49L719.64 406.85L722.68 407.21L725.72 407.56L728.77 407.92L731.83 408.28L734.90 408.63L737.98 408.99L741.07 409.35L744.17 409.70L747.27 410.06L750.38 410.42L753.50 410.77L756.63 411.13L759.77 411.49L762.92 411.84L766.07 412.20L769.24 412.56L772.41 412.92L775.59 413.27L778.78 413.63L781.98 413.99L785.18 414.34L788.40 414.70L791.62 415.06L794.85 415.41L798.09 415.77L801.34 416.13L804.60 416.48L807.86 416.84L811.14 417.20L814.42 417.55L817.71 417.91L821.01 418.27L824.32 418.62L827.64 418.98L830.96 419.34L834.30 419.69L837.64 420.05L840.99 420.41L844.35 420.76L847.72 421.12L851.10 421.48L854.48 421.84L857.87 422.19L861.28 422.55" fill="none" stroke="#f0bb6f" stroke-width="5.6" stroke-linejoin="round"/>
<circle cx="180.00" cy="315.90" r="7.5" fill="#fff"/><circle cx="180.00" cy="315.90" r="11.45" fill="none" stroke="#f0bb6f" stroke-width="5"/><circle cx="180.00" cy="315.90" r="2.55" fill="#f0bb6f"/>
<path d="M289.88 325.34V353.52" stroke="#f0bb6f" stroke-width="5.0" fill="none"/><path d="M282.48 325.34h14.80M282.48 353.52h14.80" stroke="#f0bb6f" stroke-width="4.9" fill="none"/><circle cx="289.88" cy="339.43" r="7.5" fill="#fff"/><circle cx="289.88" cy="339.43" r="11.45" fill="none" stroke="#f0bb6f" stroke-width="5"/><circle cx="289.88" cy="339.43" r="2.55" fill="#f0bb6f"/>
<path d="M399.77 341.27V378.85" stroke="#f0bb6f" stroke-width="5.0" fill="none"/><path d="M392.37 341.27h14.80M392.37 378.85h14.80" stroke="#f0bb6f" stroke-width="4.9" fill="none"/><circle cx="399.77" cy="360.06" r="7.5" fill="#fff"/><circle cx="399.77" cy="360.06" r="11.45" fill="none" stroke="#f0bb6f" stroke-width="5"/><circle cx="399.77" cy="360.06" r="2.55" fill="#f0bb6f"/>
<path d="M509.65 358.38V398.42" stroke="#f0bb6f" stroke-width="5.0" fill="none"/><path d="M502.25 358.38h14.80M502.25 398.42h14.80" stroke="#f0bb6f" stroke-width="4.9" fill="none"/><circle cx="509.65" cy="378.40" r="7.5" fill="#fff"/><circle cx="509.65" cy="378.40" r="11.45" fill="none" stroke="#f0bb6f" stroke-width="5"/><circle cx="509.65" cy="378.40" r="2.55" fill="#f0bb6f"/>
<path d="M619.53 370.27V412.75" stroke="#f0bb6f" stroke-width="5.0" fill="none"/><path d="M612.13 370.27h14.80M612.13 412.75h14.80" stroke="#f0bb6f" stroke-width="4.9" fill="none"/><circle cx="619.53" cy="391.51" r="7.5" fill="#fff"/><circle cx="619.53" cy="391.51" r="11.45" fill="none" stroke="#f0bb6f" stroke-width="5"/><circle cx="619.53" cy="391.51" r="2.55" fill="#f0bb6f"/>
<path d="M729.42 385.39V430.32" stroke="#f0bb6f" stroke-width="5.0" fill="none"/><path d="M722.02 385.39h14.80M722.02 430.32h14.80" stroke="#f0bb6f" stroke-width="4.9" fill="none"/><circle cx="729.42" cy="407.85" r="7.5" fill="#fff"/><circle cx="729.42" cy="407.85" r="11.45" fill="none" stroke="#f0bb6f" stroke-width="5"/><circle cx="729.42" cy="407.85" r="2.55" fill="#f0bb6f"/>
<path d="M839.30 401.44V447.19" stroke="#f0bb6f" stroke-width="5.0" fill="none"/><path d="M831.90 401.44h14.80M831.90 447.19h14.80" stroke="#f0bb6f" stroke-width="4.9" fill="none"/><circle cx="839.30" cy="424.32" r="7.5" fill="#fff"/><circle cx="839.30" cy="424.32" r="11.45" fill="none" stroke="#f0bb6f" stroke-width="5"/><circle cx="839.30" cy="424.32" r="2.55" fill="#f0bb6f"/>
<path d="M180.00 280.09L180.01 280.27L180.02 280.59L180.04 280.93L180.07 281.28L180.11 281.63L180.16 281.98L180.21 282.34L180.27 282.69L180.35 283.05L180.43 283.41L180.52 283.76L180.62 284.12L180.72 284.47L180.84 284.83L180.96 285.19L181.09 285.54L181.23 285.90L181.38 286.26L181.54 286.61L181.71 286.97L181.88 287.33L182.06 287.68L182.25 288.04L182.45 288.40L182.66 288.75L182.88 289.11L183.11 289.47L183.34 289.82L183.58 290.18L183.83 290.54L184.09 290.89L184.36 291.25L184.64 291.61L184.92 291.96L185.22 292.32L185.52 292.68L185.83 293.03L186.15 293.39L186.48 293.75L186.81 294.10L187.16 294.46L187.51 294.82L187.88 295.17L188.25 295.53L188.62 295.89L189.01 296.24L189.41 296.60L189.81 296.96L190.23 297.31L190.65 297.67L191.08 298.03L191.52 298.38L191.96 298.74L192.42 299.10L192.88 299.45L193.36 299.81L193.84 300.17L194.33 300.52L194.82 300.88L195.33 301.24L195.85 301.60L196.37 301.95L196.90 302.31L197.44 302.67L197.99 303.02L198.55 303.38L199.12 303.74L199.69 304.09L200.27 304.45L200.87 304.81L201.47 305.16L202.08 305.52L202.69 305.88L203.32 306.23L203.95 306.59L204.60 306.95L205.25 307.30L205.91 307.66L206.58 308.02L207.25 308.37L207.94 308.73L208.63 309.09L209.34 309.44L210.05 309.80L210.77 310.16L211.49 310.51L212.23 310.87L212.98 311.23L213.73 311.59L214.49 311.94L215.26 312.30L216.04 312.66L216.83 313.01L217.63 313.37L218.43 313.73L219.24 314.08L220.07 314.44L220.90 314.80L221.73 315.15L222.58 315.51L223.44 315.87L224.30 316.22L225.17 316.58L226.06 316.94L226.95 317.29L227.84 317.65L228.75 318.01L229.67 318.36L230.59 318.72L231.52 319.08L232.46 319.43L233.41 319.79L234.37 320.15L235.34 320.50L236.31 320.86L237.30 321.22L238.29 321.58L239.29 321.93L240.30 322.29L241.32 322.65L242.34 323.00L243.38 323.36L244.42 323.72L245.47 324.07L246.53 324.43L247.60 324.79L248.68 325.14L249.76 325.50L250.86 325.86L251.96 326.21L253.07 326.57L254.19 326.93L255.32 327.28L256.46 327.64L257.60 328.00L258.76 328.35L259.92 328.71L261.09 329.07L262.27 329.42L263.46 329.78L264.65 330.14L265.86 330.49L267.07 330.85L268.30 331.21L269.53 331.57L270.76 331.92L272.01 332.28L273.27 332.64L274.53 332.99L275.81 333.35L277.09 333.71L278.38 334.06L279.68 334.42L280.98 334.78L282.30 335.13L283.62 335.49L284.96 335.85L286.30 336.20L287.65 336.56L289.01 336.92L290.37 337.27L291.75 337.63L293.13 337.99L294.52 338.34L295.93 338.70L297.33 339.06L298.75 339.41L300.18 339.77L301.61 340.13L303.06 340.49L304.51 340.84L305.97 341.20L307.44 341.56L308.92 341.91L310.40 342.27L311.90 342.63L313.40 342.98L314.91 343.34L316.43 343.70L317.96 344.05L319.50 344.41L321.04 344.77L322.60 345.12L324.16 345.48L325.73 345.84L327.31 346.19L328.90 346.55L330.50 346.91L332.10 347.26L333.71 347.62L335.34 347.98L336.97 348.33L338.61 348.69L340.25 349.05L341.91 349.41L343.58 349.76L345.25 350.12L346.93 350.48L348.62 350.83L350.32 351.19L352.03 351.55L353.74 351.90L355.47 352.26L357.20 352.62L358.94 352.97L360.69 353.33L362.45 353.69L364.22 354.04L365.99 354.40L367.78 354.76L369.57 355.11L371.37 355.47L373.18 355.83L375.00 356.18L376.83 356.54L378.66 356.90L380.51 357.25L382.36 357.61L384.22 357.97L386.09 358.33L387.97 358.68L389.85 359.04L391.75 359.40L393.65 359.75L395.56 360.11L397.48 360.47L399.41 360.82L401.35 361.18L403.29 361.54L405.25 361.89L407.21 362.25L409.18 362.61L411.16 362.96L413.15 363.32L415.15 363.68L417.15 364.03L419.17 364.39L421.19 364.75L423.22 365.10L425.26 365.46L427.31 365.82L429.37 366.17L431.43 366.53L433.50 366.89L435.59 367.25L437.68 367.60L439.78 367.96L441.88 368.32L444.00 368.67L446.13 369.03L448.26 369.39L450.40 369.74L452.55 370.10L454.71 370.46L456.88 370.81L459.05 371.17L461.24 371.53L463.43 371.88L465.63 372.24L467.84 372.60L470.06 372.95L472.29 373.31L474.52 373.67L476.77 374.02L479.02 374.38L481.28 374.74L483.55 375.09L485.83 375.45L488.11 375.81L490.41 376.16L492.71 376.52L495.02 376.88L497.34 377.24L499.67 377.59L502.01 377.95L504.36 378.31L506.71 378.66L509.07 379.02L511.45 379.38L513.83 379.73L516.22 380.09L518.61 380.45L521.02 380.80L523.43 381.16L525.86 381.52L528.29 381.87L530.73 382.23L533.17 382.59L535.63 382.94L538.10 383.30L540.57 383.66L543.05 384.01L545.54 384.37L548.04 384.73L550.55 385.08L553.07 385.44L555.59 385.80L558.13 386.16L560.67 386.51L563.22 386.87L565.78 387.23L568.35 387.58L570.92 387.94L573.51 388.30L576.10 388.65L578.70 389.01L581.31 389.37L583.93 389.72L586.56 390.08L589.19 390.44L591.84 390.79L594.49 391.15L597.15 391.51L599.82 391.86L602.50 392.22L605.19 392.58L607.88 392.93L610.58 393.29L613.30 393.65L616.02 394.00L618.75 394.36L621.49 394.72L624.23 395.08L626.99 395.43L629.75 395.79L632.52 396.15L635.30 396.50L638.09 396.86L640.89 397.22L643.69 397.57L646.51 397.93L649.33 398.29L652.16 398.64L655.00 399.00L657.85 399.36L660.71 399.71L663.58 400.07L666.45 400.43L669.33 400.78L672.22 401.14L675.12 401.50L678.03 401.85L680.95 402.21L683.87 402.57L686.81 402.92L689.75 403.28L692.70 403.64L695.66 404.00L698.63 404.35L701.60 404.71L704.59 405.07L707.58 405.42L710.58 405.78L713.59 406.14L716.61 406.49L719.64 406.85L722.68 407.21L725.72 407.56L728.77 407.92L731.83 408.28L734.90 408.63L737.98 408.99L741.07 409.35L744.17 409.70L747.27 410.06L750.38 410.42L753.50 410.77L756.63 411.13L759.77 411.49L762.92 411.84L766.07 412.20L769.24 412.56L772.41 412.92L775.59 413.27L778.78 413.63L781.98 413.99L785.18 414.34L788.40 414.70L791.62 415.06L794.85 415.41L798.09 415.77L801.34 416.13L804.60 416.48L807.86 416.84L811.14 417.20L814.42 417.55L817.71 417.91L821.01 418.27L824.32 418.62L827.64 418.98L830.96 419.34L834.30 419.69L837.64 420.05L840.99 420.41L844.35 420.76L847.72 421.12L851.10 421.48L854.48 421.84L857.87 422.19L861.28 422.55" fill="none" stroke="#c0802a" stroke-width="5.6" stroke-linejoin="round"/>
<circle cx="180.00" cy="312.96" r="7.5" fill="#fff"/><circle cx="180.00" cy="312.96" r="11.45" fill="none" stroke="#c0802a" stroke-width="5"/><circle cx="180.00" cy="312.96" r="2.55" fill="#c0802a"/>
<path d="M289.88 325.21V353.40" stroke="#c0802a" stroke-width="5.0" fill="none"/><path d="M282.48 325.21h14.80M282.48 353.40h14.80" stroke="#c0802a" stroke-width="4.9" fill="none"/><circle cx="289.88" cy="339.31" r="7.5" fill="#fff"/><circle cx="289.88" cy="339.31" r="11.45" fill="none" stroke="#c0802a" stroke-width="5"/><circle cx="289.88" cy="339.31" r="2.55" fill="#c0802a"/>
<path d="M399.77 341.27V378.85" stroke="#c0802a" stroke-width="5.0" fill="none"/><path d="M392.37 341.27h14.80M392.37 378.85h14.80" stroke="#c0802a" stroke-width="4.9" fill="none"/><circle cx="399.77" cy="360.06" r="7.5" fill="#fff"/><circle cx="399.77" cy="360.06" r="11.45" fill="none" stroke="#c0802a" stroke-width="5"/><circle cx="399.77" cy="360.06" r="2.55" fill="#c0802a"/>
<path d="M509.65 360.92V394.82" stroke="#c0802a" stroke-width="5.0" fill="none"/><path d="M502.25 360.92h14.80M502.25 394.82h14.80" stroke="#c0802a" stroke-width="4.9" fill="none"/><circle cx="509.65" cy="377.87" r="7.5" fill="#fff"/><circle cx="509.65" cy="377.87" r="11.45" fill="none" stroke="#c0802a" stroke-width="5"/><circle cx="509.65" cy="377.87" r="2.55" fill="#c0802a"/>
<path d="M619.53 371.01V411.04" stroke="#c0802a" stroke-width="5.0" fill="none"/><path d="M612.13 371.01h14.80M612.13 411.04h14.80" stroke="#c0802a" stroke-width="4.9" fill="none"/><circle cx="619.53" cy="391.02" r="7.5" fill="#fff"/><circle cx="619.53" cy="391.02" r="11.45" fill="none" stroke="#c0802a" stroke-width="5"/><circle cx="619.53" cy="391.02" r="2.55" fill="#c0802a"/>
<path d="M729.42 384.65V431.06" stroke="#c0802a" stroke-width="5.0" fill="none"/><path d="M722.02 384.65h14.80M722.02 431.06h14.80" stroke="#c0802a" stroke-width="4.9" fill="none"/><circle cx="729.42" cy="407.85" r="7.5" fill="#fff"/><circle cx="729.42" cy="407.85" r="11.45" fill="none" stroke="#c0802a" stroke-width="5"/><circle cx="729.42" cy="407.85" r="2.55" fill="#c0802a"/>
<path d="M839.30 400.62V448.01" stroke="#c0802a" stroke-width="5.0" fill="none"/><path d="M831.90 400.62h14.80M831.90 448.01h14.80" stroke="#c0802a" stroke-width="4.9" fill="none"/><circle cx="839.30" cy="424.32" r="7.5" fill="#fff"/><circle cx="839.30" cy="424.32" r="11.45" fill="none" stroke="#c0802a" stroke-width="5"/><circle cx="839.30" cy="424.32" r="2.55" fill="#c0802a"/>
</g>
<rect x="158.10" y="268.44" width="703.20" height="491.52" fill="none" stroke="#000" stroke-width="2.6"/>
<text transform="translate(119.3,733.70) scale(1,1.045)" text-anchor="end">0.0</text>
<text transform="translate(119.3,651.78) scale(1,1.045)" text-anchor="end">0.2</text>
<text transform="translate(119.3,569.86) scale(1,1.045)" text-anchor="end">0.4</text>
<text transform="translate(119.3,487.94) scale(1,1.045)" text-anchor="end">0.6</text>
<text transform="translate(119.3,406.02) scale(1,1.045)" text-anchor="end">0.8</text>
<text transform="translate(119.3,324.10) scale(1,1.045)" text-anchor="end">1.0</text>
<text transform="translate(185.70,830.8) scale(1,1.045)" text-anchor="middle">0</text>
<text transform="translate(295.58,830.8) scale(1,1.045)" text-anchor="middle">50</text>
<text transform="translate(405.47,830.8) scale(1,1.045)" text-anchor="middle">100</text>
<text transform="translate(515.35,830.8) scale(1,1.045)" text-anchor="middle">150</text>
<text transform="translate(625.23,830.8) scale(1,1.045)" text-anchor="middle">200</text>
<text transform="translate(735.12,830.8) scale(1,1.045)" text-anchor="middle">250</text>
<text transform="translate(845.00,830.8) scale(1,1.045)" text-anchor="middle">300</text>
<text transform="translate(509.9,892.7) scale(1,1.025)" text-anchor="middle">Temperature (K)</text>
<text transform="translate(31.4,514) rotate(-90) scale(1,1.025)" text-anchor="middle">Coercivity (T)</text>
<text transform="translate(409.40,30.40) scale(1,1.025)" text-anchor="end">Sharrock Fit 8 nm</text>
<line x1="444.95" y1="16.30" x2="484.9" y2="16.30" stroke="#03233f" stroke-width="5"/>
<text transform="translate(947.20,30.40) scale(1,1.025)" text-anchor="end">Our Data 8 nm</text>
<path d="M983.40 16.80H1022.70" stroke="#03233f" stroke-width="5.0" fill="none"/><path d="M983.40 9.40v14.80M1022.70 9.40v14.80" stroke="#03233f" stroke-width="4.9" fill="none"/><circle cx="1003.20" cy="16.80" r="7.5" fill="#fff"/><circle cx="1003.20" cy="16.80" r="11.45" fill="none" stroke="#03233f" stroke-width="5"/><circle cx="1003.20" cy="16.80" r="2.55" fill="#03233f"/>
<text transform="translate(421.00,80.40) scale(1,1.025)" text-anchor="end">Sharrock Fit 18 nm</text>
<line x1="444.95" y1="66.30" x2="484.9" y2="66.30" stroke="#20537f" stroke-width="5"/>
<text transform="translate(958.80,80.40) scale(1,1.025)" text-anchor="end">Our Data 18 nm</text>
<path d="M983.40 66.80H1022.70" stroke="#20537f" stroke-width="5.0" fill="none"/><path d="M983.40 59.40v14.80M1022.70 59.40v14.80" stroke="#20537f" stroke-width="4.9" fill="none"/><circle cx="1003.20" cy="66.80" r="7.5" fill="#fff"/><circle cx="1003.20" cy="66.80" r="11.45" fill="none" stroke="#20537f" stroke-width="5"/><circle cx="1003.20" cy="66.80" r="2.55" fill="#20537f"/>
<text transform="translate(421.00,130.40) scale(1,1.025)" text-anchor="end">Sharrock Fit 28 nm</text>
<line x1="444.95" y1="116.30" x2="484.9" y2="116.30" stroke="#7bb2e0" stroke-width="5"/>
<text transform="translate(958.80,130.40) scale(1,1.025)" text-anchor="end">Our Data 28 nm</text>
<path d="M983.40 116.80H1022.70" stroke="#7bb2e0" stroke-width="5.0" fill="none"/><path d="M983.40 109.40v14.80M1022.70 109.40v14.80" stroke="#7bb2e0" stroke-width="4.9" fill="none"/><circle cx="1003.20" cy="116.80" r="7.5" fill="#fff"/><circle cx="1003.20" cy="116.80" r="11.45" fill="none" stroke="#7bb2e0" stroke-width="5"/><circle cx="1003.20" cy="116.80" r="2.55" fill="#7bb2e0"/>
<text transform="translate(421.00,180.40) scale(1,1.025)" text-anchor="end">Sharrock Fit 38 nm</text>
<line x1="444.95" y1="166.30" x2="484.9" y2="166.30" stroke="#f0bb6f" stroke-width="5"/>
<text transform="translate(958.80,180.40) scale(1,1.025)" text-anchor="end">Our Data 38 nm</text>
<path d="M983.40 166.80H1022.70" stroke="#f0bb6f" stroke-width="5.0" fill="none"/><path d="M983.40 159.40v14.80M1022.70 159.40v14.80" stroke="#f0bb6f" stroke-width="4.9" fill="none"/><circle cx="1003.20" cy="166.80" r="7.5" fill="#fff"/><circle cx="1003.20" cy="166.80" r="11.45" fill="none" stroke="#f0bb6f" stroke-width="5"/><circle cx="1003.20" cy="166.80" r="2.55" fill="#f0bb6f"/>
<text transform="translate(421.00,230.40) scale(1,1.025)" text-anchor="end">Sharrock Fit 48 nm</text>
<line x1="444.95" y1="216.30" x2="484.9" y2="216.30" stroke="#c0802a" stroke-width="5"/>
<text transform="translate(958.80,230.40) scale(1,1.025)" text-anchor="end">Our Data 48 nm</text>
<path d="M983.40 216.80H1022.70" stroke="#c0802a" stroke-width="5.0" fill="none"/><path d="M983.40 209.40v14.80M1022.70 209.40v14.80" stroke="#c0802a" stroke-width="4.9" fill="none"/><circle cx="1003.20" cy="216.80" r="7.5" fill="#fff"/><circle cx="1003.20" cy="216.80" r="11.45" fill="none" stroke="#c0802a" stroke-width="5"/><circle cx="1003.20" cy="216.80" r="2.55" fill="#c0802a"/>
</svg></body></html>
